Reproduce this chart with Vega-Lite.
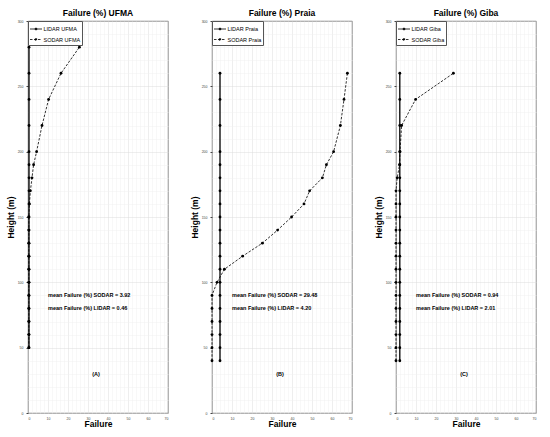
{
  "$schema": "https://vega.github.io/schema/vega-lite/v6.json",
  "padding": {"left": 5, "top": 8, "right": 0, "bottom": 0},
  "background": "white",
  "spacing": 44,
  "bounds": "flush",
  "config": {
    "font": "Liberation Sans",
    "view": {"stroke": "#444", "strokeWidth": 0.8},
    "title": {"fontSize": 8.5, "fontWeight": "bold", "color": "black", "offset": 2},
    "axis": {
      "domain": false,
      "labelFontSize": 3.5,
      "labelColor": "#444",
      "tickColor": "#444",
      "titleFontSize": 8.5,
      "titleFontWeight": "bold",
      "titleColor": "black",
      "grid": true,
      "gridWidth": 0.5,
      "labelPadding": 3
    },
    "legend": {
      "orient": "top-left",
      "offset": 0,
      "padding": 1.5,
      "rowPadding": 0.5,
      "fillColor": "white",
      "strokeColor": "#555",
      "labelFontSize": 5.5,
      "labelColor": "black",
      "symbolType": "M-1,0H1M-0.13,-0.13H0.13V0.13H-0.13Z",
      "symbolSize": 144,
      "symbolStrokeColor": "black",
      "symbolFillColor": "black",
      "symbolStrokeWidth": 0.8,
      "labelOffset": 1,
      "title": null
    }
  },
  "datasets": {
    "profiles": [
      {"panel": "A", "series": "LIDAR UFMA", "height": 280, "failure": 0.5},
      {"panel": "A", "series": "LIDAR UFMA", "height": 260, "failure": 0.5},
      {"panel": "A", "series": "LIDAR UFMA", "height": 240, "failure": 0.5},
      {"panel": "A", "series": "LIDAR UFMA", "height": 220, "failure": 0.5},
      {"panel": "A", "series": "LIDAR UFMA", "height": 200, "failure": 0.5},
      {"panel": "A", "series": "LIDAR UFMA", "height": 190, "failure": 0.5},
      {"panel": "A", "series": "LIDAR UFMA", "height": 180, "failure": 0.5},
      {"panel": "A", "series": "LIDAR UFMA", "height": 170, "failure": 0.5},
      {"panel": "A", "series": "LIDAR UFMA", "height": 160, "failure": 0.5},
      {"panel": "A", "series": "LIDAR UFMA", "height": 150, "failure": 0.5},
      {"panel": "A", "series": "LIDAR UFMA", "height": 140, "failure": 0.5},
      {"panel": "A", "series": "LIDAR UFMA", "height": 130, "failure": 0.5},
      {"panel": "A", "series": "LIDAR UFMA", "height": 120, "failure": 0.5},
      {"panel": "A", "series": "LIDAR UFMA", "height": 110, "failure": 0.5},
      {"panel": "A", "series": "LIDAR UFMA", "height": 100, "failure": 0.5},
      {"panel": "A", "series": "LIDAR UFMA", "height": 90, "failure": 0.5},
      {"panel": "A", "series": "LIDAR UFMA", "height": 80, "failure": 0.5},
      {"panel": "A", "series": "LIDAR UFMA", "height": 70, "failure": 0.5},
      {"panel": "A", "series": "LIDAR UFMA", "height": 60, "failure": 0.5},
      {"panel": "A", "series": "LIDAR UFMA", "height": 50, "failure": 0.5},
      {"panel": "A", "series": "SODAR UFMA", "height": 280, "failure": 25.7},
      {"panel": "A", "series": "SODAR UFMA", "height": 260, "failure": 16.5},
      {"panel": "A", "series": "SODAR UFMA", "height": 240, "failure": 10.3},
      {"panel": "A", "series": "SODAR UFMA", "height": 220, "failure": 7.0},
      {"panel": "A", "series": "SODAR UFMA", "height": 200, "failure": 4.3},
      {"panel": "A", "series": "SODAR UFMA", "height": 190, "failure": 2.8},
      {"panel": "A", "series": "SODAR UFMA", "height": 180, "failure": 2.0},
      {"panel": "A", "series": "SODAR UFMA", "height": 170, "failure": 1.2},
      {"panel": "A", "series": "SODAR UFMA", "height": 160, "failure": 0.7},
      {"panel": "A", "series": "SODAR UFMA", "height": 150, "failure": 0.4},
      {"panel": "A", "series": "SODAR UFMA", "height": 140, "failure": 0.4},
      {"panel": "A", "series": "SODAR UFMA", "height": 130, "failure": 0.4},
      {"panel": "A", "series": "SODAR UFMA", "height": 120, "failure": 0.4},
      {"panel": "A", "series": "SODAR UFMA", "height": 110, "failure": 0.4},
      {"panel": "A", "series": "SODAR UFMA", "height": 100, "failure": 0.4},
      {"panel": "A", "series": "SODAR UFMA", "height": 90, "failure": 0.4},
      {"panel": "A", "series": "SODAR UFMA", "height": 80, "failure": 0.4},
      {"panel": "A", "series": "SODAR UFMA", "height": 70, "failure": 0.4},
      {"panel": "A", "series": "SODAR UFMA", "height": 60, "failure": 0.4},
      {"panel": "A", "series": "SODAR UFMA", "height": 50, "failure": 0.4},

      {"panel": "B", "series": "LIDAR Praia", "height": 260, "failure": 4},
      {"panel": "B", "series": "LIDAR Praia", "height": 240, "failure": 4},
      {"panel": "B", "series": "LIDAR Praia", "height": 220, "failure": 4},
      {"panel": "B", "series": "LIDAR Praia", "height": 200, "failure": 4},
      {"panel": "B", "series": "LIDAR Praia", "height": 190, "failure": 4},
      {"panel": "B", "series": "LIDAR Praia", "height": 180, "failure": 4},
      {"panel": "B", "series": "LIDAR Praia", "height": 170, "failure": 4},
      {"panel": "B", "series": "LIDAR Praia", "height": 160, "failure": 4},
      {"panel": "B", "series": "LIDAR Praia", "height": 150, "failure": 4},
      {"panel": "B", "series": "LIDAR Praia", "height": 140, "failure": 4},
      {"panel": "B", "series": "LIDAR Praia", "height": 130, "failure": 4},
      {"panel": "B", "series": "LIDAR Praia", "height": 120, "failure": 4},
      {"panel": "B", "series": "LIDAR Praia", "height": 110, "failure": 4},
      {"panel": "B", "series": "LIDAR Praia", "height": 100, "failure": 4},
      {"panel": "B", "series": "LIDAR Praia", "height": 90, "failure": 4},
      {"panel": "B", "series": "LIDAR Praia", "height": 80, "failure": 4},
      {"panel": "B", "series": "LIDAR Praia", "height": 70, "failure": 4},
      {"panel": "B", "series": "LIDAR Praia", "height": 60, "failure": 4},
      {"panel": "B", "series": "LIDAR Praia", "height": 50, "failure": 4},
      {"panel": "B", "series": "LIDAR Praia", "height": 40, "failure": 4},
      {"panel": "B", "series": "SODAR Praia", "height": 260, "failure": 67.7},
      {"panel": "B", "series": "SODAR Praia", "height": 240, "failure": 66.0},
      {"panel": "B", "series": "SODAR Praia", "height": 220, "failure": 64.2},
      {"panel": "B", "series": "SODAR Praia", "height": 200, "failure": 60.8},
      {"panel": "B", "series": "SODAR Praia", "height": 190, "failure": 57.2},
      {"panel": "B", "series": "SODAR Praia", "height": 180, "failure": 55.2},
      {"panel": "B", "series": "SODAR Praia", "height": 170, "failure": 48.8},
      {"panel": "B", "series": "SODAR Praia", "height": 160, "failure": 46.0},
      {"panel": "B", "series": "SODAR Praia", "height": 150, "failure": 39.8},
      {"panel": "B", "series": "SODAR Praia", "height": 140, "failure": 32.8},
      {"panel": "B", "series": "SODAR Praia", "height": 130, "failure": 25.2},
      {"panel": "B", "series": "SODAR Praia", "height": 120, "failure": 15.3},
      {"panel": "B", "series": "SODAR Praia", "height": 110, "failure": 6.2},
      {"panel": "B", "series": "SODAR Praia", "height": 100, "failure": 2.5},
      {"panel": "B", "series": "SODAR Praia", "height": 90, "failure": 0},
      {"panel": "B", "series": "SODAR Praia", "height": 80, "failure": 0},
      {"panel": "B", "series": "SODAR Praia", "height": 70, "failure": 0},
      {"panel": "B", "series": "SODAR Praia", "height": 60, "failure": 0},
      {"panel": "B", "series": "SODAR Praia", "height": 50, "failure": 0},
      {"panel": "B", "series": "SODAR Praia", "height": 40, "failure": 0},

      {"panel": "C", "series": "LIDAR Giba", "height": 260, "failure": 1.9},
      {"panel": "C", "series": "LIDAR Giba", "height": 240, "failure": 1.9},
      {"panel": "C", "series": "LIDAR Giba", "height": 220, "failure": 1.9},
      {"panel": "C", "series": "LIDAR Giba", "height": 200, "failure": 1.9},
      {"panel": "C", "series": "LIDAR Giba", "height": 190, "failure": 1.9},
      {"panel": "C", "series": "LIDAR Giba", "height": 180, "failure": 1.9},
      {"panel": "C", "series": "LIDAR Giba", "height": 170, "failure": 1.9},
      {"panel": "C", "series": "LIDAR Giba", "height": 160, "failure": 1.9},
      {"panel": "C", "series": "LIDAR Giba", "height": 150, "failure": 1.9},
      {"panel": "C", "series": "LIDAR Giba", "height": 140, "failure": 1.9},
      {"panel": "C", "series": "LIDAR Giba", "height": 130, "failure": 1.9},
      {"panel": "C", "series": "LIDAR Giba", "height": 120, "failure": 1.9},
      {"panel": "C", "series": "LIDAR Giba", "height": 110, "failure": 1.9},
      {"panel": "C", "series": "LIDAR Giba", "height": 100, "failure": 1.9},
      {"panel": "C", "series": "LIDAR Giba", "height": 90, "failure": 1.9},
      {"panel": "C", "series": "LIDAR Giba", "height": 80, "failure": 1.9},
      {"panel": "C", "series": "LIDAR Giba", "height": 70, "failure": 1.9},
      {"panel": "C", "series": "LIDAR Giba", "height": 60, "failure": 1.9},
      {"panel": "C", "series": "LIDAR Giba", "height": 50, "failure": 1.9},
      {"panel": "C", "series": "LIDAR Giba", "height": 40, "failure": 1.9},
      {"panel": "C", "series": "SODAR Giba", "height": 260, "failure": 28.7},
      {"panel": "C", "series": "SODAR Giba", "height": 240, "failure": 9.8},
      {"panel": "C", "series": "SODAR Giba", "height": 220, "failure": 2.8},
      {"panel": "C", "series": "SODAR Giba", "height": 200, "failure": 2.0},
      {"panel": "C", "series": "SODAR Giba", "height": 190, "failure": 1.8},
      {"panel": "C", "series": "SODAR Giba", "height": 180, "failure": 0.6},
      {"panel": "C", "series": "SODAR Giba", "height": 170, "failure": 0},
      {"panel": "C", "series": "SODAR Giba", "height": 160, "failure": 0},
      {"panel": "C", "series": "SODAR Giba", "height": 150, "failure": 0},
      {"panel": "C", "series": "SODAR Giba", "height": 140, "failure": 0},
      {"panel": "C", "series": "SODAR Giba", "height": 130, "failure": 0},
      {"panel": "C", "series": "SODAR Giba", "height": 120, "failure": 0},
      {"panel": "C", "series": "SODAR Giba", "height": 110, "failure": 0},
      {"panel": "C", "series": "SODAR Giba", "height": 100, "failure": 0},
      {"panel": "C", "series": "SODAR Giba", "height": 90, "failure": 0},
      {"panel": "C", "series": "SODAR Giba", "height": 80, "failure": 0},
      {"panel": "C", "series": "SODAR Giba", "height": 70, "failure": 0},
      {"panel": "C", "series": "SODAR Giba", "height": 60, "failure": 0},
      {"panel": "C", "series": "SODAR Giba", "height": 50, "failure": 0},
      {"panel": "C", "series": "SODAR Giba", "height": 40, "failure": 0}
    ],
    "notes": [
      {"panel": "A", "label": "mean Failure (%) SODAR = 3.92", "height": 90, "failure": 10, "kind": "mean"},
      {"panel": "A", "label": "mean Failure (%) LIDAR = 0.46", "height": 80, "failure": 10, "kind": "mean"},
      {"panel": "A", "label": "(A)", "height": 30, "failure": 34, "kind": "tag"},
      {"panel": "B", "label": "mean Failure (%) SODAR = 29.48", "height": 90, "failure": 10, "kind": "mean"},
      {"panel": "B", "label": "mean Failure (%) LIDAR = 4.20", "height": 80, "failure": 10, "kind": "mean"},
      {"panel": "B", "label": "(B)", "height": 30, "failure": 34, "kind": "tag"},
      {"panel": "C", "label": "mean Failure (%) SODAR = 0.94", "height": 90, "failure": 10, "kind": "mean"},
      {"panel": "C", "label": "mean Failure (%) LIDAR = 2.01", "height": 80, "failure": 10, "kind": "mean"},
      {"panel": "C", "label": "(C)", "height": 30, "failure": 34, "kind": "tag"}
    ]
  },
  "resolve": {"scale": {"strokeDash": "independent"}, "legend": {"strokeDash": "independent"}},
  "hconcat": [
    {
      "width": 140, "height": 392,
      "title": "Failure (%) UFMA",
      "data": {"name": "profiles"},
      "transform": [{"filter": "datum.panel === 'A'"}],
      "encoding": {
        "x": {"field": "failure", "type": "quantitative", "title": "Failure", "scale": {"domain": [0, 70], "nice": false},
              "axis": {"values": [0,2,4,6,8,10,12,14,16,18,20,22,24,26,28,30,32,34,36,38,40,42,44,46,48,50,52,54,56,58,60,62,64,66,68,70],
                       "labelExpr": "datum.value % 10 === 0 ? datum.label : ''",
                       "gridColor": {"condition": {"test": "datum.value % 10 === 0", "value": "#dcdcdc"}, "value": "#f1f1f1"},
                       "tickOpacity": {"condition": {"test": "datum.value % 10 === 0", "value": 1}, "value": 0},
                       "tickSize": 0, "labelPadding": 3, "titlePadding": 0}},
        "y": {"field": "height", "type": "quantitative", "title": "Height (m)", "scale": {"domain": [0, 300], "nice": false},
              "axis": {"values": [0,10,20,30,40,50,60,70,80,90,100,110,120,130,140,150,160,170,180,190,200,210,220,230,240,250,260,270,280,290,300],
                       "labelExpr": "datum.value % 50 === 0 ? datum.label : ''",
                       "gridColor": {"condition": {"test": "datum.value % 50 === 0", "value": "#dcdcdc"}, "value": "#f1f1f1"},
                       "tickOpacity": {"condition": {"test": "datum.value % 50 === 0", "value": 1}, "value": 0},
                       "tickSize": 2, "titlePadding": 2}}
      },
      "layer": [
        {"transform": [{"filter": "indexof(datum.series, 'LIDAR') === 0"}],
         "mark": {"type": "line", "color": "black", "strokeWidth": 1.3},
         "encoding": {"order": {"field": "height"}, "strokeDash": {"field": "series", "type": "nominal", "scale": {"domain": ["LIDAR UFMA", "SODAR UFMA"], "range": [[1, 0], [2.5, 1.5]]}}}},
        {"transform": [{"filter": "indexof(datum.series, 'SODAR') === 0"}],
         "mark": {"type": "line", "color": "black", "strokeWidth": 0.8},
         "encoding": {"order": {"field": "height"}, "strokeDash": {"field": "series", "type": "nominal", "scale": {"domain": ["LIDAR UFMA", "SODAR UFMA"], "range": [[1, 0], [2.5, 1.5]]}}}},
        {"mark": {"type": "point", "shape": "circle", "filled": true, "color": "black", "size": 8, "opacity": 1}},
        {"data": {"name": "notes"}, "transform": [{"filter": "datum.panel === 'A' && datum.kind === 'mean'"}],
         "mark": {"type": "text", "align": "left", "baseline": "middle", "fontSize": 5.5, "fontWeight": "bold", "color": "black"},
         "encoding": {"text": {"field": "label"}}},
        {"data": {"name": "notes"}, "transform": [{"filter": "datum.panel === 'A' && datum.kind === 'tag'"}],
         "mark": {"type": "text", "align": "center", "baseline": "middle", "fontSize": 5.5, "fontWeight": "bold", "color": "black"},
         "encoding": {"text": {"field": "label"}}}
      ]
    },
    {
      "width": 140, "height": 392,
      "title": "Failure (%) Praia",
      "data": {"name": "profiles"},
      "transform": [{"filter": "datum.panel === 'B'"}],
      "encoding": {
        "x": {"field": "failure", "type": "quantitative", "title": "Failure", "scale": {"domain": [0, 70], "nice": false},
              "axis": {"values": [0,2,4,6,8,10,12,14,16,18,20,22,24,26,28,30,32,34,36,38,40,42,44,46,48,50,52,54,56,58,60,62,64,66,68,70],
                       "labelExpr": "datum.value % 10 === 0 ? datum.label : ''",
                       "gridColor": {"condition": {"test": "datum.value % 10 === 0", "value": "#dcdcdc"}, "value": "#f1f1f1"},
                       "tickOpacity": {"condition": {"test": "datum.value % 10 === 0", "value": 1}, "value": 0},
                       "tickSize": 0, "labelPadding": 3, "titlePadding": 0}},
        "y": {"field": "height", "type": "quantitative", "title": "Height (m)", "scale": {"domain": [0, 300], "nice": false},
              "axis": {"values": [0,10,20,30,40,50,60,70,80,90,100,110,120,130,140,150,160,170,180,190,200,210,220,230,240,250,260,270,280,290,300],
                       "labelExpr": "datum.value % 50 === 0 ? datum.label : ''",
                       "gridColor": {"condition": {"test": "datum.value % 50 === 0", "value": "#dcdcdc"}, "value": "#f1f1f1"},
                       "tickOpacity": {"condition": {"test": "datum.value % 50 === 0", "value": 1}, "value": 0},
                       "tickSize": 2, "titlePadding": 2}}
      },
      "layer": [
        {"transform": [{"filter": "indexof(datum.series, 'LIDAR') === 0"}],
         "mark": {"type": "line", "color": "black", "strokeWidth": 1.3},
         "encoding": {"order": {"field": "height"}, "strokeDash": {"field": "series", "type": "nominal", "scale": {"domain": ["LIDAR Praia", "SODAR Praia"], "range": [[1, 0], [2.5, 1.5]]}}}},
        {"transform": [{"filter": "indexof(datum.series, 'SODAR') === 0"}],
         "mark": {"type": "line", "color": "black", "strokeWidth": 0.8},
         "encoding": {"order": {"field": "height"}, "strokeDash": {"field": "series", "type": "nominal", "scale": {"domain": ["LIDAR Praia", "SODAR Praia"], "range": [[1, 0], [2.5, 1.5]]}}}},
        {"mark": {"type": "point", "shape": "circle", "filled": true, "color": "black", "size": 8, "opacity": 1}},
        {"data": {"name": "notes"}, "transform": [{"filter": "datum.panel === 'B' && datum.kind === 'mean'"}],
         "mark": {"type": "text", "align": "left", "baseline": "middle", "fontSize": 5.5, "fontWeight": "bold", "color": "black"},
         "encoding": {"text": {"field": "label"}}},
        {"data": {"name": "notes"}, "transform": [{"filter": "datum.panel === 'B' && datum.kind === 'tag'"}],
         "mark": {"type": "text", "align": "center", "baseline": "middle", "fontSize": 5.5, "fontWeight": "bold", "color": "black"},
         "encoding": {"text": {"field": "label"}}}
      ]
    },
    {
      "width": 140, "height": 392,
      "title": "Failure (%) Giba",
      "data": {"name": "profiles"},
      "transform": [{"filter": "datum.panel === 'C'"}],
      "encoding": {
        "x": {"field": "failure", "type": "quantitative", "title": "Failure", "scale": {"domain": [0, 70], "nice": false},
              "axis": {"values": [0,2,4,6,8,10,12,14,16,18,20,22,24,26,28,30,32,34,36,38,40,42,44,46,48,50,52,54,56,58,60,62,64,66,68,70],
                       "labelExpr": "datum.value % 10 === 0 ? datum.label : ''",
                       "gridColor": {"condition": {"test": "datum.value % 10 === 0", "value": "#dcdcdc"}, "value": "#f1f1f1"},
                       "tickOpacity": {"condition": {"test": "datum.value % 10 === 0", "value": 1}, "value": 0},
                       "tickSize": 0, "labelPadding": 3, "titlePadding": 0}},
        "y": {"field": "height", "type": "quantitative", "title": "Height (m)", "scale": {"domain": [0, 300], "nice": false},
              "axis": {"values": [0,10,20,30,40,50,60,70,80,90,100,110,120,130,140,150,160,170,180,190,200,210,220,230,240,250,260,270,280,290,300],
                       "labelExpr": "datum.value % 50 === 0 ? datum.label : ''",
                       "gridColor": {"condition": {"test": "datum.value % 50 === 0", "value": "#dcdcdc"}, "value": "#f1f1f1"},
                       "tickOpacity": {"condition": {"test": "datum.value % 50 === 0", "value": 1}, "value": 0},
                       "tickSize": 2, "titlePadding": 2}}
      },
      "layer": [
        {"transform": [{"filter": "indexof(datum.series, 'LIDAR') === 0"}],
         "mark": {"type": "line", "color": "black", "strokeWidth": 1.3},
         "encoding": {"order": {"field": "height"}, "strokeDash": {"field": "series", "type": "nominal", "scale": {"domain": ["LIDAR Giba", "SODAR Giba"], "range": [[1, 0], [2.5, 1.5]]}}}},
        {"transform": [{"filter": "indexof(datum.series, 'SODAR') === 0"}],
         "mark": {"type": "line", "color": "black", "strokeWidth": 0.8},
         "encoding": {"order": {"field": "height"}, "strokeDash": {"field": "series", "type": "nominal", "scale": {"domain": ["LIDAR Giba", "SODAR Giba"], "range": [[1, 0], [2.5, 1.5]]}}}},
        {"mark": {"type": "point", "shape": "circle", "filled": true, "color": "black", "size": 8, "opacity": 1}},
        {"data": {"name": "notes"}, "transform": [{"filter": "datum.panel === 'C' && datum.kind === 'mean'"}],
         "mark": {"type": "text", "align": "left", "baseline": "middle", "fontSize": 5.5, "fontWeight": "bold", "color": "black"},
         "encoding": {"text": {"field": "label"}}},
        {"data": {"name": "notes"}, "transform": [{"filter": "datum.panel === 'C' && datum.kind === 'tag'"}],
         "mark": {"type": "text", "align": "center", "baseline": "middle", "fontSize": 5.5, "fontWeight": "bold", "color": "black"},
         "encoding": {"text": {"field": "label"}}}
      ]
    }
  ]
}
